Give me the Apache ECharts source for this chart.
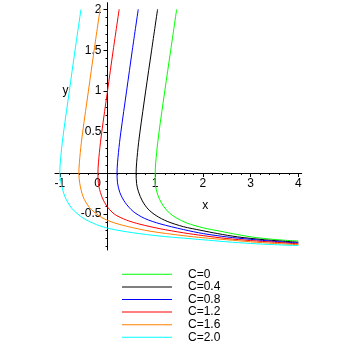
<!DOCTYPE html>
<html>
<head>
<meta charset="utf-8">
<script src="https://cdn.jsdelivr.net/npm/echarts@6/dist/echarts.min.js"></script>
<style>
html,body{margin:0;padding:0;background:#fff;}
#chart{width:359px;height:359px;}
</style>
</head>
<body>
<div id="chart"></div>
<script>
// ---- data ----
const seriesNames = ['C=0', 'C=0.4', 'C=0.8', 'C=1.2', 'C=1.6', 'C=2.0'];
const seriesColors = ['#00ff00', '#000000', '#0000ff', '#ff0000', '#ff8000', '#00ffff'];

const curveC00 = [[1.45,2],[1.325,1.5],[1.20,1],[1.08,0.5],[1.03,0.25],[1.0,0],[1.0,-0.12],[1.03,-0.22],[1.09,-0.32],[1.18,-0.41],[1.30,-0.49],[1.45,-0.55],[1.66,-0.61],[2.01,-0.67],[2.36,-0.71],[2.71,-0.75],[3.13,-0.79],[3.69,-0.82],[4.0,-0.83]];
const curveC04 = [[1.05,2],[0.925,1.5],[0.80,1],[0.68,0.5],[0.63,0.25],[0.60,0],[0.61,-0.13],[0.65,-0.23],[0.73,-0.34],[0.85,-0.44],[1.02,-0.52],[1.25,-0.59],[1.59,-0.655],[1.96,-0.70],[2.31,-0.74],[2.73,-0.78],[3.29,-0.815],[4.0,-0.845]];
const curveC08 = [[0.645,2],[0.52,1.5],[0.40,1],[0.28,0.5],[0.23,0.25],[0.20,0],[0.21,-0.12],[0.26,-0.24],[0.37,-0.36],[0.54,-0.47],[0.78,-0.555],[1.10,-0.62],[1.59,-0.69],[2.01,-0.74],[2.5,-0.78],[3.0,-0.81],[3.5,-0.835],[4.0,-0.855]];
const curveC12 = [[0.245,2],[0.12,1.5],[0.0,1],[-0.12,0.5],[-0.17,0.25],[-0.20,0],[-0.19,-0.13],[-0.13,-0.27],[-0.03,-0.39],[0.14,-0.50],[0.40,-0.575],[0.68,-0.625],[1.10,-0.68],[1.59,-0.73],[2.01,-0.765],[2.5,-0.80],[3.0,-0.825],[3.5,-0.845],[4.0,-0.865]];
const curveC16 = [[-0.155,2],[-0.28,1.5],[-0.40,1],[-0.52,0.5],[-0.57,0.25],[-0.60,0],[-0.58,-0.13],[-0.51,-0.29],[-0.38,-0.42],[-0.17,-0.525],[0.05,-0.59],[0.40,-0.65],[0.89,-0.71],[1.59,-0.765],[2.0,-0.79],[2.5,-0.815],[3.0,-0.84],[3.5,-0.86],[4.0,-0.875]];
const curveC20 = [[-0.555,2],[-0.68,1.5],[-0.80,1],[-0.92,0.5],[-0.97,0.25],[-1.0,0],[-0.97,-0.13],[-0.89,-0.29],[-0.75,-0.43],[-0.51,-0.55],[-0.23,-0.63],[0.05,-0.68],[0.54,-0.73],[1.10,-0.77],[1.59,-0.795],[2.0,-0.815],[2.5,-0.84],[3.0,-0.86],[3.5,-0.875],[4.0,-0.886]];
const curves = [curveC00, curveC04, curveC08, curveC12, curveC16, curveC20];

const xTickValues = [-1, 0, 1, 2, 3, 4];
const yTickValues = [-0.5, 0, 0.5, 1, 1.5, 2];
const yLabelValues = [-0.5, 0.5, 1, 1.5, 2];

// ---- chart ----
const FONT = 'Liberation Sans, Arial, sans-serif';
const X_MIN = -1.1, X_MAX = 4.07, Y_MIN = -0.94, Y_MAX = 2.08;
const GRID = {left: 55, right: 57.3, top: 2.7, bottom: 109};
const chartW = 359, chartH = 359;
const gridW = chartW - GRID.left - GRID.right;
const gridH = chartH - GRID.top - GRID.bottom;
// move the axes onto the zero lines (axis crossing at the origin)
const xAxisOffset = -(gridH * (0 - Y_MIN) / (Y_MAX - Y_MIN));
const yAxisOffset = -(gridW * (0 - X_MIN) / (X_MAX - X_MIN));

const chart = echarts.init(document.getElementById('chart'), null, {renderer: 'canvas'});

const option = {
  backgroundColor: '#ffffff',
  animation: false,
  grid: {left: GRID.left, right: GRID.right, top: GRID.top, bottom: GRID.bottom, containLabel: false, outerBoundsMode: 'none'},
  legend: {
    orient: 'vertical',
    left: 122,
    top: 268,
    padding: 0,
    itemGap: 0,
    itemWidth: 50,
    itemHeight: 1,
    icon: 'rect',
    data: seriesNames,
    textStyle: {color: '#000', fontFamily: FONT, fontSize: 12, lineHeight: 12.6, padding: [0, 0, 0, 11]}
  },
  xAxis: {
    type: 'value',
    position: 'bottom',
    offset: xAxisOffset,
    min: X_MIN,
    max: X_MAX,
    name: 'x',
    nameLocation: 'middle',
    nameGap: 27,
    nameMoveOverlap: false,
    nameTextStyle: {color: '#000', fontFamily: FONT, fontSize: 12, padding: [0, 0, 0, 54]},
    axisLine: {onZero: false, lineStyle: {color: '#000', width: 1}},
    axisTick: {show: true, length: 4, customValues: xTickValues, lineStyle: {color: '#000', width: 1}},
    minorTick: {show: true, splitNumber: 5, length: 2, lineStyle: {color: '#000', width: 1}},
    splitLine: {show: false},
    axisLabel: {
      color: '#000', fontFamily: FONT, fontSize: 12, margin: 5,
      customValues: xTickValues,
      formatter: function (v) { return v === 0 ? '{z|0}' : String(v); },
      rich: {z: {padding: [0, 20, 0, 0], color: '#000', fontFamily: FONT, fontSize: 12}}
    }
  },
  yAxis: {
    type: 'value',
    position: 'left',
    offset: yAxisOffset,
    min: Y_MIN,
    max: Y_MAX,
    name: '{n|y}\n{s|}',
    nameLocation: 'middle',
    nameRotate: 0,
    nameGap: 39,
    nameMoveOverlap: false,
    nameTextStyle: {
      color: '#000', fontFamily: FONT, fontSize: 12, align: 'right', verticalAlign: 'middle',
      rich: {
        n: {color: '#000', fontFamily: FONT, fontSize: 12, lineHeight: 14, align: 'right'},
        s: {height: 72, lineHeight: 72}
      }
    },
    axisLine: {onZero: false, lineStyle: {color: '#000', width: 1}},
    axisTick: {show: true, length: 4, customValues: yTickValues, lineStyle: {color: '#000', width: 1}},
    minorTick: {show: true, splitNumber: 5, length: 2, lineStyle: {color: '#000', width: 1}},
    splitLine: {show: false},
    axisLabel: {color: '#000', fontFamily: FONT, fontSize: 12, margin: 6, customValues: yLabelValues}
  },
  series: curves.map(function (pts, i) {
    return {
      name: seriesNames[i],
      type: 'line',
      data: pts,
      showSymbol: false,
      symbol: 'none',
      smooth: 0.3,
      color: seriesColors[i],
      lineStyle: {color: seriesColors[i], width: 1},
      emphasis: {disabled: true}
    };
  })
};
chart.setOption(option);
</script>
</body>
</html>
